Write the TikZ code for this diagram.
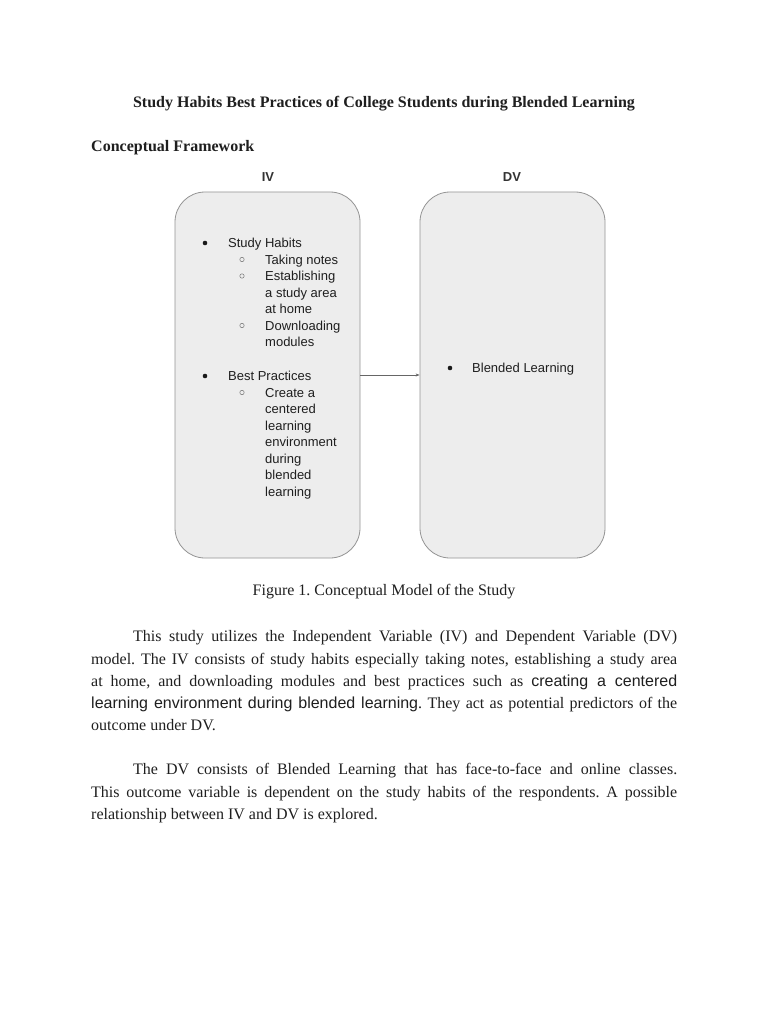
\documentclass[tikz,border=0pt]{standalone}
\usepackage{fontspec}
\setmainfont{Liberation Serif}
\newfontfamily\arial{Liberation Sans}
\usetikzlibrary{arrows.meta}
\frenchspacing
\tikzset{
  txt/.style={anchor=base west, inner sep=0pt, text=black!88},
  bodyf/.style={font=\fontsize{16}{19}\selectfont},
  boxf/.style={font=\arial\fontsize{13}{15}\selectfont},
  panel/.style={draw=black!42, fill=black!7, line width=0.8pt, rounded corners=30pt,
    minimum width=185pt, minimum height=366pt, inner sep=0pt},
  dotb/.style={fill=black!90, draw=none},
  ringb/.style={draw=black!55, line width=0.5pt, fill=none},
  link/.style={draw=black!60, line width=0.8pt, -{Stealth[length=4pt,width=3pt]}}
}
\begin{document}
\begin{tikzpicture}[x=1pt,y=-1pt]
\frenchspacing
\useasboundingbox[fill=white] (0,0) rectangle (768,1024);
% title
\node[txt, bodyf, anchor=base, font=\bfseries\fontsize{16}{19}\selectfont] (title) at (384,108) {Study Habits Best Practices of College Students during Blended Learning};
\node[txt, font=\bfseries\fontsize{16}{19}\selectfont] (cf) at (91,152) {Conceptual Framework};
% labels
\node[txt, anchor=base, font=\arial\bfseries\fontsize{13}{15}\selectfont, text=black!80] (ivl) at (268,182) {IV};
\node[txt, anchor=base, font=\arial\bfseries\fontsize{13}{15}\selectfont, text=black!80] (dvl) at (512,182) {DV};
% panels
\node[panel] (iv) at (267.5,375) {};
\node[panel] (dv) at (512.5,375) {};
\draw[link] (iv.east) -- (dv.west);
% left list
\fill[dotb] (205,243) circle (2.3pt);
\node[txt, boxf] (sh) at (228,247.5) {Study Habits};
\draw[ringb] (242,259.5) circle (2.2pt);
\node[txt, boxf] (s1) at (265,264) {Taking notes};
\draw[ringb] (242,276) circle (2.2pt);
\node[txt, boxf] (s2a) at (265,280.5) {Establishing};
\node[txt, boxf] (s2b) at (265,297) {a study area};
\node[txt, boxf] (s2c) at (265,313.5) {at home};
\draw[ringb] (242,325.5) circle (2.2pt);
\node[txt, boxf] (s3a) at (265,330) {Downloading};
\node[txt, boxf] (s3b) at (265,346.5) {modules};
\fill[dotb] (205,376) circle (2.3pt);
\node[txt, boxf] (bp) at (228,380.5) {Best Practices};
\draw[ringb] (242,392.5) circle (2.2pt);
\node[txt, boxf] (b1) at (265,397) {Create a};
\node[txt, boxf] (b2) at (265,413.5) {centered};
\node[txt, boxf] (b3) at (265,430) {learning};
\node[txt, boxf] (b4) at (265,446.5) {environment};
\node[txt, boxf] (b5) at (265,463) {during};
\node[txt, boxf] (b6) at (265,479.5) {blended};
\node[txt, boxf] (b7) at (265,496) {learning};
% right list
\fill[dotb] (450,368) circle (2.3pt);
\node[txt, boxf] (bl) at (472,372.5) {Blended Learning};
% caption
\node[txt, bodyf, anchor=base] (cap) at (384,595) {Figure 1. Conceptual Model of the Study};
% paragraph 1
\node[txt, bodyf] (p1a) at (133,641) {\hbox to 544pt{This study utilizes the Independent Variable (IV) and Dependent Variable (DV)}};
\node[txt, bodyf] (p1b) at (91,664) {\hbox to 586pt{model. The IV consists of study habits especially taking notes, establishing a study area}};
\node[txt, bodyf] (p1c) at (91,686) {\hbox to 586pt{at home, and downloading modules and best practices such as {\arial creating a centered}}};
\node[txt, bodyf] (p1d) at (91,708) {\hbox to 586pt{{\arial learning environment during blended learning}. They act as potential predictors of the}};
\node[txt, bodyf] (p1e) at (91,730) {outcome under DV.};
% paragraph 2
\node[txt, bodyf] (p2a) at (133,774) {\hbox to 544pt{The DV consists of Blended Learning that has face-to-face and online classes.}};
\node[txt, bodyf] (p2b) at (91,797) {\hbox to 586pt{This outcome variable is dependent on the study habits of the respondents. A possible}};
\node[txt, bodyf] (p2c) at (91,819) {relationship between IV and DV is explored.};
\end{tikzpicture}
\end{document}
